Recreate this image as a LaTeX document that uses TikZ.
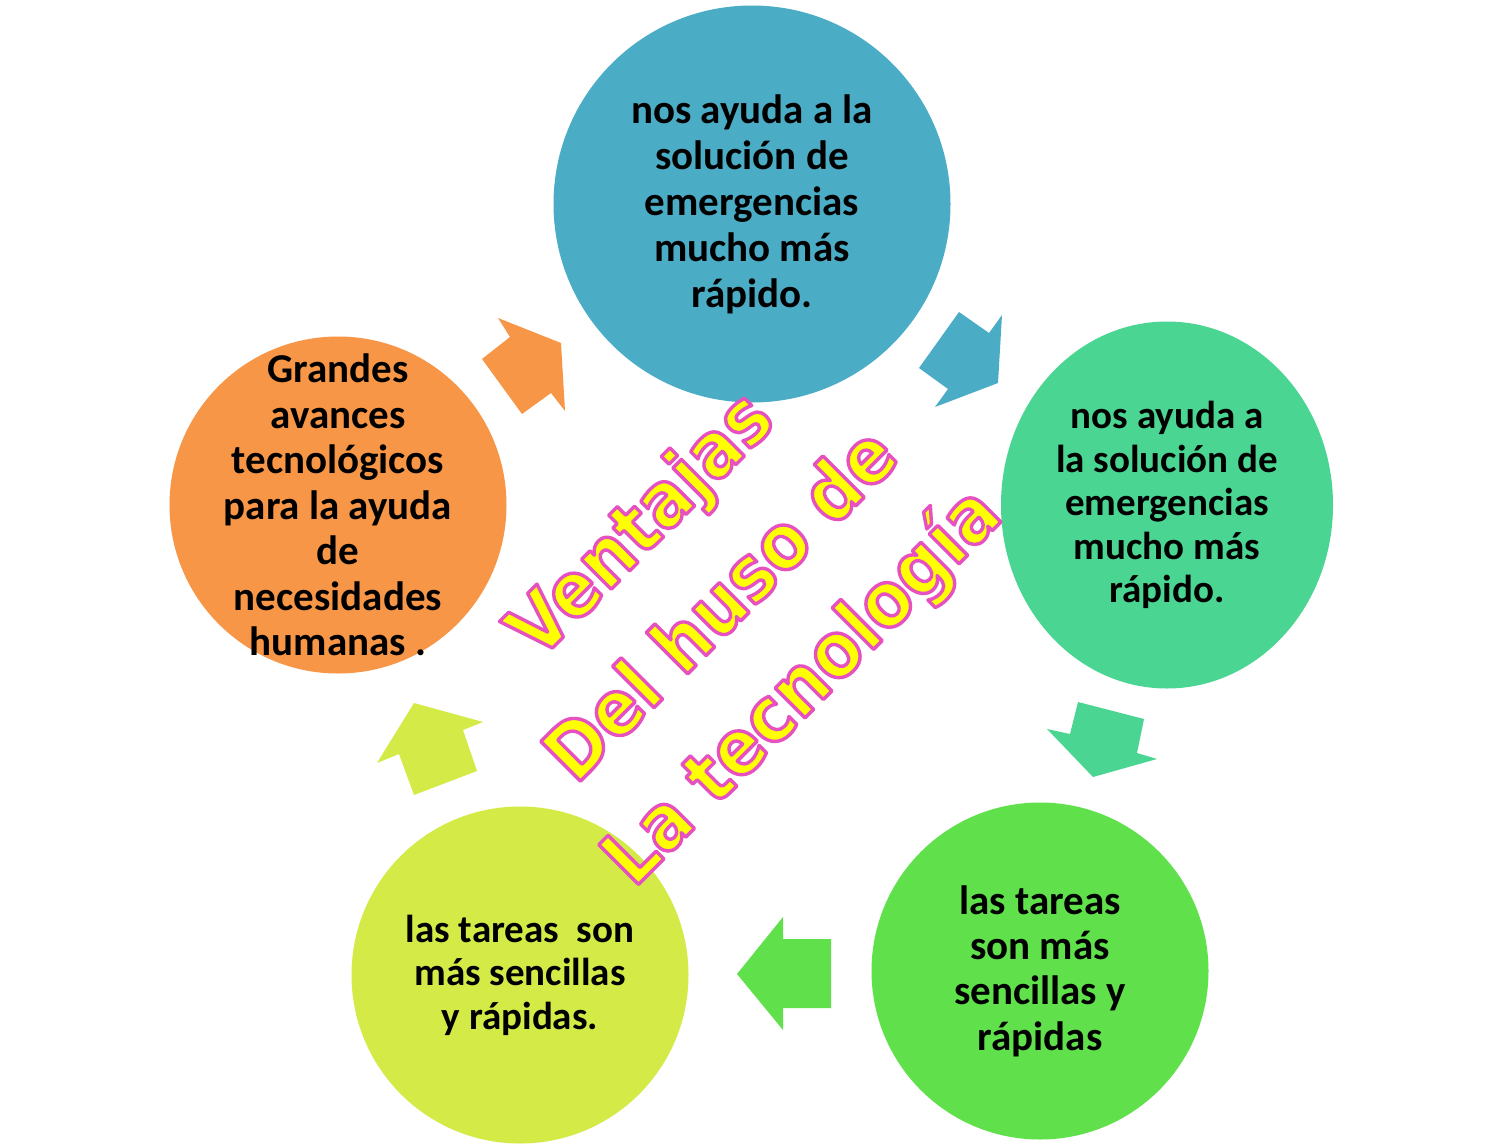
\documentclass[tikz,border=0pt]{standalone}
\usepackage{fontspec}
\setmainfont{Carlito}
\newfontfamily\wordartfont{DejaVu Sans Condensed}
\usetikzlibrary{shapes.geometric}

\definecolor{cblue}{HTML}{4BACC6}
\definecolor{cteal}{HTML}{4AD592}
\definecolor{cgreen}{HTML}{60E04A}
\definecolor{clime}{HTML}{D4EA46}
\definecolor{corange}{HTML}{F79646}
\definecolor{wyellow}{HTML}{FFFF00}
% outlined text: fill + stroke render mode, pink stroke
\newcommand\pinkoutline{\special{pdf:literal direct 2 Tr 1 j 3.4 w 0.902 0.314 0.753 RG}}
\newcommand\plainrender{\special{pdf:literal direct 0 Tr}}

\begin{document}
\begin{tikzpicture}[x=1pt,y=-1pt,
  bubble/.style={circle, inner sep=0pt, minimum size=#1},
  wordart/.style={rotate=45, align=center, inner sep=0pt, font=\wordartfont\bfseries\fontsize{77}{114}\selectfont}
]
\useasboundingbox[fill=white] (0,0) rectangle (1502,1148);

% circles
\node[bubble=397pt, fill=cblue] (ctop) at (752,204) {};
\node[ellipse, inner sep=0pt, minimum width=332pt, minimum height=367pt, fill=cteal] (cright) at (1167,505) {};
\node[bubble=337pt, fill=cgreen] (cbr) at (1040,971) {};
\node[bubble=337pt, fill=clime] (cbl) at (520,975) {};
\node[bubble=337pt, fill=corange] (cleft) at (338,505) {};

% texts
\node[align=center, inner sep=0pt, font=\fontsize{41}{46}\selectfont\bfseries] (ttop) at (ctop) {nos ayuda a la\\solución de\\emergencias\\mucho más\\rápido.};
\node[align=center, inner sep=0pt, font=\fontsize{39}{43.5}\selectfont\bfseries] (tright) at (cright) {nos ayuda a\\la solución de\\emergencias\\mucho más\\rápido.};
\node[align=center, inner sep=0pt, font=\fontsize{41}{45.3}\selectfont\bfseries] (tbr) at (cbr) {las tareas\\son más\\sencillas y\\rápidas};
\node[align=center, inner sep=0pt, font=\fontsize{39}{43.5}\selectfont\bfseries] (tbl) at (cbl) {las tareas~~son\\más sencillas\\y rápidas.};
\node[align=center, inner sep=0pt, font=\fontsize{41}{45.5}\selectfont\bfseries] (tleft) at (cleft) {Grandes\\avances\\tecnológicos\\para la ayuda\\de\\necesidades\\humanas .};

% block arrows
\fill[corange] (561,343) -- (498,318) -- (510,337) -- (482,359) -- (522,414) -- (551,393) -- (565,411) -- cycle;
\fill[cblue] (959,312) -- (989,333) -- (1002,315) -- (998,383) -- (935,407) -- (948,389) -- (919,368) -- cycle;
\fill[cteal] (1078,702) -- (1144,719) -- (1137,753) -- (1157,759) -- (1093,777) -- (1047,729) -- (1070,734) -- cycle;
\fill[cgreen] (831,939) -- (831,1008) -- (783,1008) -- (783,1030) -- (737,974) -- (783,917) -- (783,939) -- cycle;
\fill[clime] (414,703) -- (483,722) -- (463,730) -- (477,771) -- (414,795) -- (399,754) -- (377,763) -- cycle;

% word art title
\node[wordart, text=wyellow] (title) at (724,608) {\pinkoutline Ventajas\\Del huso de\\La tecnología\plainrender};
\end{tikzpicture}
\end{document}
